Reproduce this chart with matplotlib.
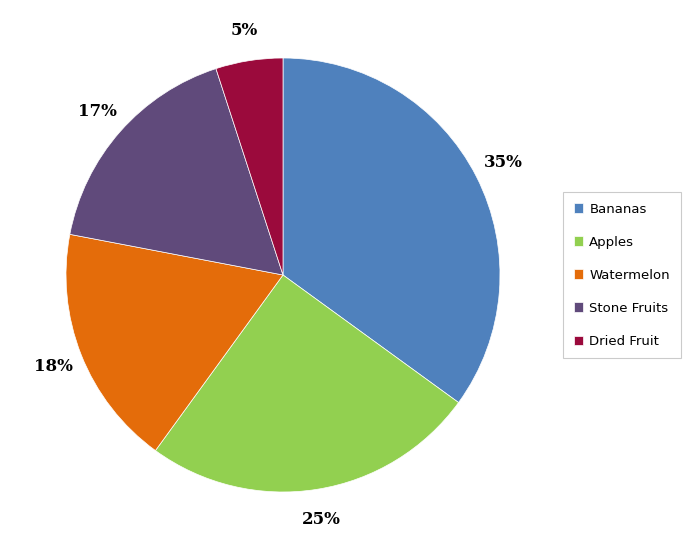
import matplotlib
matplotlib.use('Agg')
import matplotlib.pyplot as plt

fruits = ['Bananas', 'Apples', 'Watermelon', 'Stone Fruits', 'Dried Fruit']
shares = [35, 25, 18, 17, 5]
colors = ['#4F81BD', '#92D050', '#E46C0A', '#604A7B', '#9B0A3C']

fig = plt.figure(figsize=(6.94, 5.5), dpi=100)
W, H = 694, 550
cx, cy, r = 283, 275, 217
ax = fig.add_axes([(cx - r) / W, (H - cy - r) / H, 2 * r / W, 2 * r / H])

wedges, texts, autotexts = ax.pie(shares, colors=colors, startangle=90, counterclock=False,
                                  autopct='%d%%', pctdistance=1.14, radius=1,
                                  wedgeprops=dict(edgecolor='white', linewidth=0.5))
for t in autotexts:
    t.set_fontsize(12)
    t.set_fontweight('bold')
    t.set_fontfamily('DejaVu Serif')
ax.set_xlim(-1, 1)
ax.set_ylim(-1, 1)
ax.set_aspect('equal')
ax.axis('off')

leg = fig.legend(wedges, fruits, loc='upper left',
                 bbox_to_anchor=(563 / W, 1 - 192 / H), fontsize=9.5,
                 handlelength=0.7, handleheight=0.7, handletextpad=0.5,
                 labelspacing=1.52, borderpad=0.8, borderaxespad=0,
                 fancybox=False, edgecolor='#BFBFBF', frameon=True)
leg.get_frame().set_linewidth(0.8)

fig.savefig('out.png', dpi=100)
